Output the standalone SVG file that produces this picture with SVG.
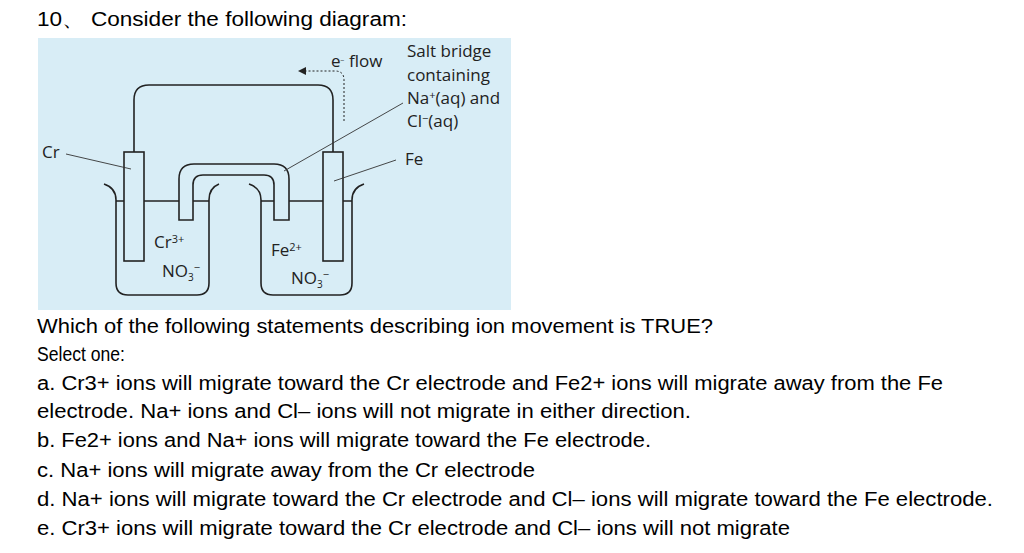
<svg xmlns="http://www.w3.org/2000/svg" width="1024" height="553" viewBox="0 0 1024 553">
<style>
.q{font-family:"Liberation Sans",Arial,sans-serif;font-size:20px;fill:#000}
.d{font-family:"Open Sans","Liberation Sans",sans-serif;font-size:17px;fill:#222}
.s{fill:none;stroke:#222;stroke-width:1.6}
.l{fill:none;stroke:#333;stroke-width:0.9}
</style>
<defs><marker id="ah" markerWidth="8" markerHeight="8" refX="6" refY="4" orient="auto" markerUnits="userSpaceOnUse"><path d="M0,0 L8,4 L0,8 z" fill="#222"/></marker></defs>
<rect width="1024" height="553" fill="#fff"/>
<rect x="38" y="38" width="473" height="272" fill="#d8edf6"/>
<text class="q" x="37" y="26" textLength="370" lengthAdjust="spacingAndGlyphs">10、 Consider the following diagram:</text>
<g id="beakerL"><path class="s" d="M104,184 Q116,188 116,200 V283 Q116,295 128,295 H197 Q209,295 209,283 V200 Q209,188 219,184"/></g>
<g id="beakerR"><path class="s" d="M249,184 Q261,188 261,200 V283 Q261,295 273,295 H340 Q352,295 352,283 V200 Q352,188 364,184"/></g>
<g id="liquid"><path class="s" d="M116,201 H124 M144,201 H179 M193,201 H209 M261,201 H274 M289,201 H323 M343,201 H352"/></g>
<g id="wire"><path class="s" d="M134,152 V100 Q134,85 149,85 H318 Q333,85 333,100 V152"/></g>
<g id="crElectrode"><rect class="s" x="124" y="152" width="20" height="109" fill="#d8edf6"/></g>
<g id="feElectrode"><rect class="s" x="323" y="152" width="20" height="109" fill="#d8edf6"/></g>
<g id="saltBridge"><path class="s" d="M179,220 V179 Q179,164 194,164 H274 Q289,164 289,179 V220 H274 V185 Q274,175 264,175 H203 Q193,175 193,185 V220 Z" fill="#d8edf6"/></g>
<g id="connectors">
<path d="M344,121 V80 Q344,71 335,71 H300" fill="none" stroke="#222" stroke-width="1" stroke-dasharray="2,2" marker-end="url(#ah)"/>
<line class="l" x1="66" y1="154" x2="131" y2="169"/>
<line class="l" x1="403" y1="103" x2="284" y2="171"/>
<line class="l" x1="396" y1="160" x2="334" y2="181"/>
</g>
<g id="labels">
<text class="d" x="331" y="67" font-size="10.5">e<tspan font-size="7" dy="-4">−</tspan><tspan dy="4"> flow</tspan></text>
<text class="d" x="407" y="57">Salt bridge</text>
<text class="d" x="407" y="81">containing</text>
<text class="d" x="407" y="104">Na<tspan font-size="11" dy="-5">+</tspan><tspan dy="5">(aq) and</tspan></text>
<text class="d" x="407" y="127">Cl<tspan font-size="11" dy="-5">−</tspan><tspan dy="5">(aq)</tspan></text>
<text class="d" x="42" y="158">Cr</text>
<text class="d" x="405" y="165">Fe</text>
<text class="d" x="154" y="248">Cr<tspan font-size="11" dy="-5">3+</tspan></text>
<text class="d" x="162" y="277">NO<tspan font-size="10" dy="4">3</tspan><tspan font-size="11" dy="-10">−</tspan></text>
<text class="d" x="271" y="256">Fe<tspan font-size="11" dy="-5">2+</tspan></text>
<text class="d" x="291" y="284">NO<tspan font-size="10" dy="4">3</tspan><tspan font-size="11" dy="-10">−</tspan></text>
</g>
<text class="q" x="37" y="333" textLength="676" lengthAdjust="spacingAndGlyphs">Which of the following statements describing ion movement is TRUE?</text>
<text class="q" x="37" y="361" textLength="88" lengthAdjust="spacingAndGlyphs">Select one:</text>
<text class="q" x="37" y="390" textLength="906" lengthAdjust="spacingAndGlyphs">a. Cr3+ ions will migrate toward the Cr electrode and Fe2+ ions will migrate away from the Fe</text>
<text class="q" x="37" y="418" textLength="654" lengthAdjust="spacingAndGlyphs">electrode. Na+ ions and Cl– ions will not migrate in either direction.</text>
<text class="q" x="37" y="447" textLength="614" lengthAdjust="spacingAndGlyphs">b. Fe2+ ions and Na+ ions will migrate toward the Fe electrode.</text>
<text class="q" x="37" y="477" textLength="498" lengthAdjust="spacingAndGlyphs">c. Na+ ions will migrate away from the Cr electrode</text>
<text class="q" x="37" y="506" textLength="956" lengthAdjust="spacingAndGlyphs">d. Na+ ions will migrate toward the Cr electrode and Cl– ions will migrate toward the Fe electrode.</text>
<text class="q" x="37" y="535" textLength="753" lengthAdjust="spacingAndGlyphs">e. Cr3+ ions will migrate toward the Cr electrode and Cl– ions will not migrate</text>
</svg>
